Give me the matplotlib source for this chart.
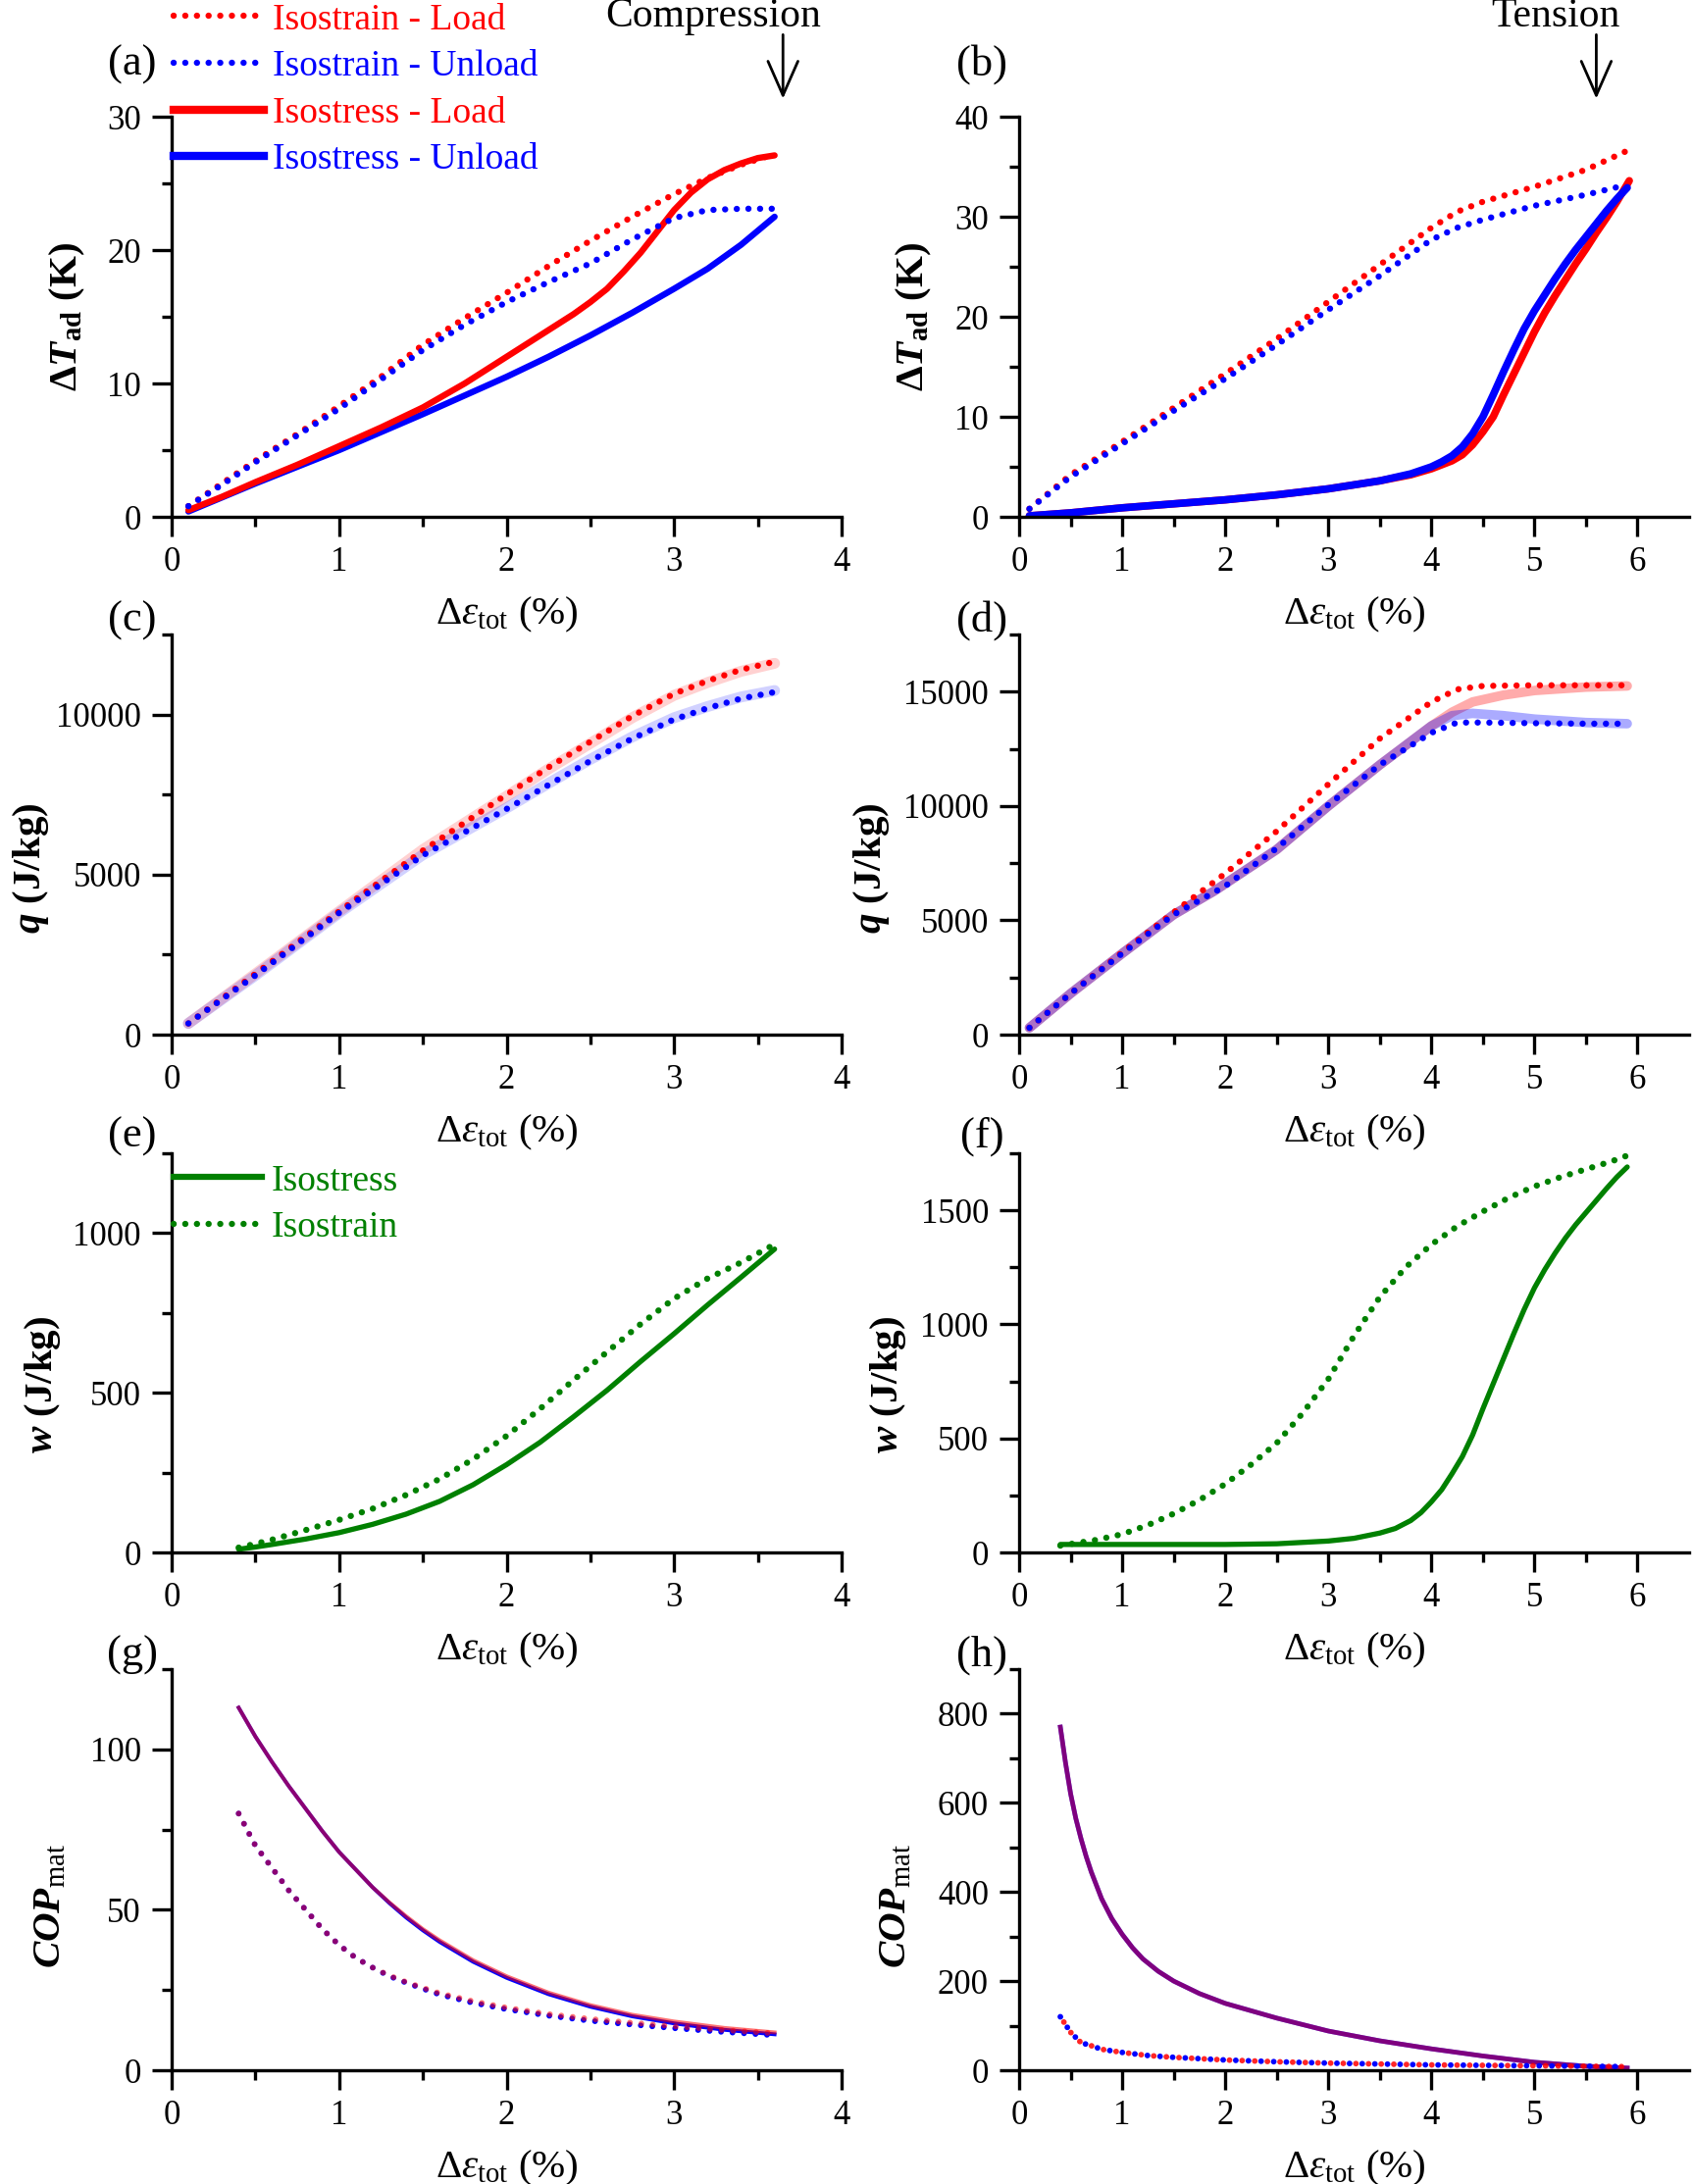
import matplotlib
matplotlib.use('Agg')
import matplotlib.pyplot as plt
from matplotlib.ticker import MultipleLocator, FixedLocator
from matplotlib.lines import Line2D

plt.rcParams['font.family'] = ['Liberation Serif', 'DejaVu Serif']
plt.rcParams['mathtext.fontset'] = 'custom'
plt.rcParams['mathtext.rm'] = 'Liberation Serif'
plt.rcParams['mathtext.it'] = 'Liberation Serif:italic'
plt.rcParams['mathtext.bf'] = 'Liberation Serif:bold'
try:
    plt.rcParams['mathtext.bfit'] = 'Liberation Serif:bold:italic'
    BFIT = r'\mathbfit'
except KeyError:
    BFIT = r'\mathit'

# ---------------- data ----------------
# (a) compression, adiabatic temperature change
a_strain_x = [0.1, 0.3, 0.5, 0.75, 1.0, 1.25, 1.5, 1.75, 2.0, 2.25, 2.5, 2.75, 3.0, 3.2, 3.4, 3.6]
a_strain_load = [0.8, 2.5, 4.2, 6.2, 8.3, 10.5, 12.9, 14.9, 16.8, 18.8, 20.7, 22.5, 24.2, 25.4, 26.4, 27.2]
a_strain_unload = [0.8, 2.4, 4.1, 6.1, 8.1, 10.3, 12.5, 14.4, 16.1, 17.6, 19.0, 20.8, 22.4, 23.0, 23.1, 23.1]
a_stress_load_x = [0.1, 0.3, 0.5, 0.75, 1.0, 1.25, 1.5, 1.75, 2.0, 2.1, 2.2, 2.3, 2.4, 2.5, 2.6, 2.7, 2.8, 2.9,
                   3.0, 3.1, 3.2, 3.3, 3.4, 3.5, 3.6]
a_stress_load = [0.5, 1.5, 2.6, 3.9, 5.3, 6.7, 8.2, 10.0, 12.0, 12.8, 13.6, 14.4, 15.2, 16.1, 17.1, 18.4, 19.8, 21.4,
                 23.0, 24.3, 25.3, 26.0, 26.5, 26.9, 27.1]
a_stress_unload_x = [0.1, 0.5, 1.0, 1.5, 2.0, 2.25, 2.5, 2.75, 3.0, 3.2, 3.4, 3.6]
a_stress_unload = [0.4, 2.5, 5.0, 7.7, 10.5, 12.0, 13.6, 15.3, 17.1, 18.6, 20.4, 22.5]

# (b) tension, adiabatic temperature change
b_strain_x = [0.1, 0.5, 1.0, 1.5, 2.0, 2.5, 3.0, 3.5, 4.0, 4.25, 4.5, 5.0, 5.5, 5.9]
b_strain_load = [0.8, 4.2, 7.5, 10.9, 14.3, 17.8, 21.5, 25.2, 28.9, 30.5, 31.5, 33.0, 34.7, 36.6]
b_strain_unload = [0.8, 4.0, 7.3, 10.6, 13.8, 17.2, 20.7, 24.1, 27.7, 28.9, 29.7, 31.1, 32.2, 33.2]
b_stress_load_x = [0.1, 0.5, 1.0, 1.5, 2.0, 2.5, 3.0, 3.5, 3.8, 4.0, 4.1, 4.2, 4.3, 4.4, 4.5, 4.6, 4.7, 4.8, 4.9,
                   5.0, 5.1, 5.2, 5.3, 5.4, 5.5, 5.6, 5.7, 5.8, 5.92]
b_stress_load = [0.1, 0.4, 0.9, 1.3, 1.7, 2.2, 2.8, 3.6, 4.2, 4.8, 5.2, 5.6, 6.2, 7.2, 8.5, 10.0, 12.2, 14.3, 16.4,
                 18.5, 20.4, 22.1, 23.7, 25.3, 26.8, 28.4, 29.9, 31.5, 33.6]
b_stress_unload_x = [0.1, 0.5, 1.0, 1.5, 2.0, 2.5, 3.0, 3.5, 3.8, 4.0, 4.1, 4.2, 4.3, 4.4, 4.5, 4.6, 4.7, 4.8, 4.9,
                     5.0, 5.1, 5.2, 5.3, 5.4, 5.5, 5.6, 5.7, 5.8, 5.9]
b_stress_unload = [0.1, 0.4, 0.9, 1.3, 1.7, 2.2, 2.8, 3.6, 4.3, 5.0, 5.5, 6.1, 7.0, 8.3, 10.0, 12.2, 14.5, 16.7, 18.8,
                   20.6, 22.2, 23.8, 25.3, 26.7, 28.0, 29.3, 30.6, 31.8, 32.9]

# (c) compression, heat q
c_x = [0.1, 0.5, 1.0, 1.5, 2.0, 2.25, 2.5, 2.75, 3.0, 3.2, 3.4, 3.6]
c_strain_load = [350, 1900, 3850, 5750, 7500, 8350, 9150, 9950, 10650, 11050, 11400, 11650]
c_strain_unload = [350, 1850, 3800, 5600, 7050, 7800, 8550, 9250, 9850, 10200, 10500, 10700]
c_stress_load = [350, 1900, 3850, 5780, 7450, 8300, 9100, 9900, 10600, 11000, 11350, 11600]
c_stress_unload = [350, 1850, 3800, 5620, 7080, 7850, 8600, 9300, 9900, 10250, 10550, 10750]

# (d) tension, heat q
d_strain_x = [0.1, 0.5, 1.0, 1.5, 2.0, 2.5, 3.0, 3.5, 4.0, 4.25, 4.5, 5.0, 5.5, 5.9]
d_strain_load = [300, 1800, 3600, 5350, 7050, 8900, 10950, 12950, 14550, 15100, 15250, 15280, 15280, 15280]
d_strain_unload = [300, 1800, 3550, 5250, 6500, 8150, 10050, 11800, 13200, 13650, 13650, 13620, 13600, 13600]
d_stress_x = [0.1, 0.5, 1.0, 1.5, 1.9, 2.5, 3.0, 3.5, 4.0, 4.2, 4.4, 4.7, 5.0, 5.5, 5.9]
d_stress_load = [300, 1800, 3550, 5250, 6300, 8100, 10000, 11800, 13500, 14100, 14550, 14850, 15050, 15200, 15250]
d_stress_unload = [300, 1800, 3550, 5250, 6300, 8100, 10000, 11800, 13500, 13950, 14050, 13950, 13800, 13650, 13600]

# (e) compression, work w
e_x = [0.4, 0.5, 0.6, 0.8, 1.0, 1.2, 1.4, 1.6, 1.8, 2.0, 2.2, 2.4, 2.6, 2.8, 3.0, 3.2, 3.4, 3.6]
e_stress = [10, 17, 25, 42, 62, 88, 120, 160, 212, 275, 345, 425, 508, 598, 685, 775, 862, 950]
e_strain = [15, 27, 40, 70, 102, 137, 180, 230, 292, 365, 450, 540, 628, 715, 795, 858, 908, 965]

# (f) tension, work w
f_stress_x = [0.4, 1.0, 2.0, 2.5, 3.0, 3.25, 3.5, 3.65, 3.8, 3.9, 4.0, 4.1, 4.2, 4.3, 4.4, 4.5, 4.6, 4.7, 4.8,
              4.9, 5.0, 5.1, 5.2, 5.3, 5.4, 5.5, 5.6, 5.7, 5.8, 5.9]
f_stress = [35, 35, 35, 38, 50, 62, 85, 105, 140, 175, 222, 275, 345, 420, 515, 630, 740, 850, 960,
            1065, 1160, 1240, 1312, 1378, 1437, 1490, 1543, 1596, 1646, 1690]
f_strain_x = [0.4, 0.75, 1.0, 1.25, 1.5, 1.75, 2.0, 2.25, 2.5, 2.75, 3.0, 3.25, 3.5, 3.75, 4.0, 4.25, 4.5, 4.75,
              5.0, 5.25, 5.5, 5.75, 5.9]
f_strain = [30, 55, 80, 120, 170, 230, 300, 385, 480, 610, 760, 950, 1120, 1250, 1350, 1430, 1495, 1555,
            1605, 1645, 1680, 1715, 1740]

# (g) compression, COP
g_x = [0.4, 0.5, 0.6, 0.7, 0.8, 0.9, 1.0, 1.1, 1.2, 1.3, 1.4, 1.5, 1.6, 1.8, 2.0, 2.25, 2.5, 2.75, 3.0, 3.3, 3.6]
g_stress_load = [113, 104, 96, 88.5, 81.5, 74.5, 68, 62.5, 57, 52.3, 48, 44, 40.5, 34.3, 29.3, 24.2, 20.3, 17.3, 15.2, 13.2, 11.8]
g_stress_unload = [113, 104, 96, 88.5, 81.5, 74.5, 68, 62.5, 57, 52.1, 47.6, 43.6, 40, 33.8, 28.8, 23.7, 19.8, 16.8, 14.6, 12.6, 11.2]
g_strain_load = [80, 70, 63, 56, 50, 44, 39, 35, 32, 29.5, 27.5, 25.7, 24, 21.5, 19.5, 17.5, 16, 14.8, 13.7, 12.5, 11.5]
g_strain_unload = [80, 70, 63, 56, 50, 44, 39, 35, 32, 29.3, 27.3, 25.4, 23.6, 21, 19, 17, 15.4, 14.2, 13.1, 11.9, 10.9]

# (h) tension, COP
h_stress_x = [0.4, 0.45, 0.5, 0.55, 0.6, 0.65, 0.7, 0.8, 0.9, 1.0, 1.1, 1.2, 1.35, 1.5, 1.75, 2.0, 2.5, 3.0, 3.5,
              4.0, 4.5, 5.0, 5.5, 5.9]
h_stress = [770, 690, 620, 565, 520, 480, 445, 385, 340, 305, 275, 250, 222, 200, 172, 150, 117, 88, 66,
            48, 32, 18, 9, 5]
h_strain_x = [0.4, 0.5, 0.6, 0.7, 0.8, 1.0, 1.25, 1.5, 2.0, 2.5, 3.0, 3.5, 4.0, 4.5, 5.0, 5.5, 5.9]
h_strain = [120, 85, 62, 55, 47, 40, 33, 29, 23, 19, 16, 14, 12, 11, 10, 9, 8]

legend_top = ['Isostrain - Load', 'Isostrain - Unload', 'Isostress - Load', 'Isostress - Unload']
legend_w = ['Isostress', 'Isostrain']
panel_letters = ['(a)', '(b)', '(c)', '(d)', '(e)', '(f)', '(g)', '(h)']

# ---------------- style ----------------
RED = '#ff0000'
BLUE = '#0000ff'
GREEN = '#008000'
DOT = (0, (0.01, 1.85))
DOTKW = dict(linestyle=DOT, dash_capstyle='round', lw=4.6)

W, H = 1725, 2227
fig = plt.figure(figsize=(W / 100, H / 100), dpi=100)

def px_axes(x0, y0, x1, y1):
    return fig.add_axes([x0 / W, 1 - y1 / H, (x1 - x0) / W, (y1 - y0) / H])

LX = (175, 858)
RX = (1039, 1722)
ROWS = [(119, 527), (647, 1055), (1176, 1583), (1702, 2111)]
TICKFS = 25
LABFS = 29.5

def style(ax, xmax, xminor, ytop, ymaj, yminor):
    ax.set_xlim(0, xmax)
    ax.set_ylim(0, ytop)
    for s in ['top', 'right']:
        ax.spines[s].set_visible(False)
    for s in ['left', 'bottom']:
        ax.spines[s].set_linewidth(2.4)
    ax.xaxis.set_major_locator(MultipleLocator(1))
    ax.xaxis.set_minor_locator(FixedLocator(xminor))
    ax.yaxis.set_major_locator(MultipleLocator(ymaj))
    ax.yaxis.set_minor_locator(FixedLocator(yminor))
    ax.tick_params(which='major', direction='out', length=14.4, width=2.4, labelsize=TICKFS)
    ax.tick_params(which='minor', direction='out', length=7.5, width=2.4)
    ax.tick_params(axis='x', which='major', pad=7)
    ax.tick_params(axis='y', which='major', pad=8)
    ax.set_xlabel(r'$\Delta\varepsilon_{\mathrm{tot}}$ (%)', fontsize=LABFS, va='center')
    ax.xaxis.set_label_coords(0.5, -0.245)

LMIN = [0.5, 1.5, 2.5, 3.5]
RMIN = [0.5, 1.5, 2.5, 3.5, 4.5, 5.5]

axs = {}
for i, (col, row) in enumerate([(LX, 0), (RX, 0), (LX, 1), (RX, 1), (LX, 2), (RX, 2), (LX, 3), (RX, 3)]):
    axs[i] = px_axes(col[0], ROWS[row][0], col[1], ROWS[row][1])

TLAB = r'$\mathbf{\Delta}' + BFIT + r'{T}_{\mathbf{ad}}$ (K)'
QLAB = r'$' + BFIT + r'{q}$ (J/kg)'
WLAB = r'$' + BFIT + r'{w}$ (J/kg)'
CLAB = r'$' + BFIT + r'{COP}_{\mathrm{mat}}$'

# (a)
ax = axs[0]
style(ax, 4, LMIN, 30, 10, [5, 15, 25])
ax.plot(a_stress_unload_x, a_stress_unload, color=BLUE, lw=4.6, solid_capstyle='round')
ax.plot(a_stress_load_x, a_stress_load, color=RED, lw=4.6, solid_capstyle='round')
ax.plot(a_strain_x, a_strain_load, color=RED, **DOTKW)
ax.plot(a_strain_x, a_strain_unload, color=BLUE, **DOTKW)
ax.set_ylabel(TLAB, fontsize=LABFS, fontweight='bold', va='center')
ax.yaxis.set_label_coords(-0.155, 0.5)

# (b)
ax = axs[1]
style(ax, 6.5, RMIN, 40, 10, [5, 15, 25, 35])
ax.plot(b_strain_x, b_strain_load, color=RED, **DOTKW)
ax.plot(b_strain_x, b_strain_unload, color=BLUE, **DOTKW)
ax.plot(b_stress_load_x, b_stress_load, color=RED, lw=5.5, solid_capstyle='round')
ax.plot(b_stress_unload_x, b_stress_unload, color=BLUE, lw=5.5, solid_capstyle='round')
ax.set_ylabel(TLAB, fontsize=LABFS, fontweight='bold', va='center')
ax.yaxis.set_label_coords(-0.157, 0.5)

# (c)
ax = axs[2]
style(ax, 4, LMIN, 12500, 5000, [2500, 7500, 12500])
ax.plot(c_x, c_stress_load, color=RED, lw=8, alpha=0.18, solid_capstyle='round')
ax.plot(c_x, c_stress_unload, color=BLUE, lw=8, alpha=0.18, solid_capstyle='round')
ax.plot(c_x, c_strain_load, color=RED, **DOTKW)
ax.plot(c_x, c_strain_unload, color=BLUE, **DOTKW)
ax.set_ylabel(QLAB, fontsize=LABFS, fontweight='bold', va='center')
ax.yaxis.set_label_coords(-0.21, 0.415)

# (d)
ax = axs[3]
style(ax, 6.5, RMIN, 17500, 5000, [2500, 7500, 12500, 17500])
ax.plot(d_stress_x, d_stress_load, color=RED, lw=7, alpha=0.33, solid_capstyle='round')
ax.plot(d_stress_x, d_stress_unload, color=BLUE, lw=7, alpha=0.33, solid_capstyle='round')
ax.plot(d_strain_x, d_strain_load, color=RED, **DOTKW)
ax.plot(d_strain_x, d_strain_unload, color=BLUE, **DOTKW)
ax.set_ylabel(QLAB, fontsize=LABFS, fontweight='bold', va='center')
ax.yaxis.set_label_coords(-0.221, 0.415)

# (e)
ax = axs[4]
style(ax, 4, LMIN, 1250, 500, [250, 750, 1250])
ax.plot(e_x, e_stress, color=GREEN, lw=3.8, solid_capstyle='round')
ax.plot(e_x, e_strain, color=GREEN, **DOTKW)
ax.set_ylabel(WLAB, fontsize=LABFS, fontweight='bold', va='center')
ax.yaxis.set_label_coords(-0.193, 0.42)

# (f)
ax = axs[5]
style(ax, 6.5, RMIN, 1750, 500, [250, 750, 1250, 1750])
ax.plot(f_stress_x, f_stress, color=GREEN, lw=3.8, solid_capstyle='round')
ax.plot(f_strain_x, f_strain, color=GREEN, **DOTKW)
ax.set_ylabel(WLAB, fontsize=LABFS, fontweight='bold', va='center')
ax.yaxis.set_label_coords(-0.196, 0.42)

# (g)
ax = axs[6]
style(ax, 4, LMIN, 125, 50, [25, 75, 125])
ax.plot(g_x, g_stress_unload, color=BLUE, lw=2.8)
ax.plot(g_x, g_stress_load, color=RED, lw=2.8, alpha=0.55)
ax.plot(g_x, g_strain_unload, color=BLUE, linestyle=(0, (0.01, 2.0)), dash_capstyle='round', lw=4.2)
ax.plot(g_x, g_strain_load, color=RED, linestyle=(0, (0.01, 2.0)), dash_capstyle='round', lw=4.2, alpha=0.55)
ax.set_ylabel(CLAB, fontsize=LABFS, fontweight='bold', va='center')
ax.yaxis.set_label_coords(-0.181, 0.41)

# (h)
ax = axs[7]
style(ax, 6.5, RMIN, 900, 200, [100, 300, 500, 700, 900])
ax.plot(h_stress_x, h_stress, color=BLUE, lw=3.4)
ax.plot(h_stress_x, h_stress, color=RED, lw=3.4, alpha=0.5)
ax.plot(h_strain_x, h_strain, color=BLUE, linestyle=(0, (0.01, 2.2)), dash_capstyle='round', lw=4.2)
ax.plot(h_strain_x, h_strain, color=RED, linestyle=(1.1, (0.01, 2.2)), dash_capstyle='round', lw=4.2, alpha=0.85)
ax.set_ylabel(CLAB, fontsize=LABFS, fontweight='bold', va='center')
ax.yaxis.set_label_coords(-0.183, 0.41)

# panel letters
letter_pos = [(135, 66), (1001, 66), (135, 633), (1001, 633), (135, 1159), (1001, 1159), (135, 1688), (1001, 1688)]
for lab, (px, py) in zip(panel_letters, letter_pos):
    fig.text(px / W, 1 - py / H, lab, fontsize=32, ha='center', va='center')

# legends
h_top = [Line2D([], [], color=RED, **DOTKW),
         Line2D([], [], color=BLUE, **DOTKW),
         Line2D([], [], color=RED, lw=6),
         Line2D([], [], color=BLUE, lw=6)]
fig.legend(h_top, legend_top, loc='upper left', bbox_to_anchor=(177 / W, 1 - 3 / H),
           frameon=False, fontsize=27, handlelength=2.45, handletextpad=0.25,
           labelspacing=0.35, borderpad=0, borderaxespad=0, labelcolor='linecolor')
h_w = [Line2D([], [], color=GREEN, lw=4.5),
       Line2D([], [], color=GREEN, **DOTKW)]
fig.legend(h_w, legend_w, loc='upper left', bbox_to_anchor=(177 / W, 1 - 1187 / H),
           frameon=False, fontsize=27, handlelength=2.4, handletextpad=0.25,
           labelspacing=0.35, borderpad=0, borderaxespad=0, labelcolor='linecolor')

# annotations
fig.text(727 / W, 1 - 17 / H, 'Compression', fontsize=30, ha='center', va='center')
fig.text(1586 / W, 1 - 17 / H, 'Tension', fontsize=30, ha='center', va='center')
for ax, xa in [(axs[0], 3.65), (axs[1], 5.6)]:
    ax.annotate('', xy=(xa, 1.045), xycoords=('data', 'axes fraction'),
                xytext=(xa, 1.205), textcoords=('data', 'axes fraction'),
                arrowprops=dict(arrowstyle='->,head_length=1.25,head_width=0.55',
                                lw=2, color='black', mutation_scale=20, shrinkA=0, shrinkB=0),
                annotation_clip=False)

fig.savefig('out.png', dpi=100)
